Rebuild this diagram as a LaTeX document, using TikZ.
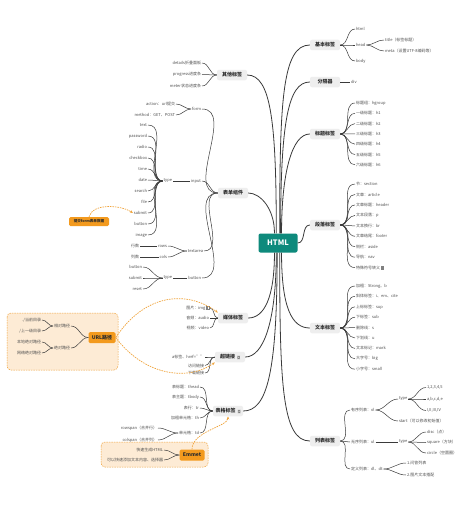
\documentclass[tikz,border=0pt]{standalone}
\usepackage{fontspec}
\setmainfont{Noto Sans CJK SC}
\usetikzlibrary{arrows.meta}
\definecolor{rootteal}{HTML}{0E8A7C}
\definecolor{topicgrey}{HTML}{EEEEEE}
\definecolor{inkdark}{HTML}{2B2B2B}
\definecolor{inkgrey}{HTML}{505050}
\definecolor{wiregrey}{HTML}{3A3A3A}
\definecolor{tiporange}{HTML}{F39A1E}
\definecolor{zonefill}{HTML}{FDEBD5}
\definecolor{zoneline}{HTML}{F0A33A}

\newcommand{\noteicon}{\tikz[baseline=0pt]\draw[gray, line width=0.3pt] (0,0) rectangle (2.4pt,3pt) (0.5pt,1pt)--(1.9pt,1pt) (0.5pt,2pt)--(1.9pt,2pt);}

\begin{document}
\begin{tikzpicture}[x=1pt, y=-1pt,
  root/.style={fill=rootteal, rounded corners=2pt, text=white, font=\fontsize{7.5}{8}\selectfont\bfseries, minimum width=39pt, minimum height=19pt, inner sep=1pt},
  topic/.style={fill=topicgrey, rounded corners=2pt, text=inkdark, font=\fontsize{5}{6}\selectfont\bfseries, minimum width=30pt, minimum height=10.5pt, inner sep=1.5pt},
  leaf/.style={text=inkgrey, font=\fontsize{4}{4.5}\selectfont, inner sep=0.8pt},
  tipbox/.style={fill=tiporange, rounded corners=1.5pt, text=inkdark, font=\fontsize{5}{6}\selectfont\bfseries, minimum height=11pt, inner sep=1.5pt},
  zone/.style={draw=zoneline, fill=zonefill, dashed, dash pattern=on 1.5pt off 1pt, rounded corners=4pt, line width=0.5pt},
  wire/.style={draw=wiregrey, line width=0.8pt},
  twig/.style={draw=wiregrey, line width=0.5pt},
  hint/.style={draw=zoneline, dash pattern=on 1.5pt off 1pt, line width=0.7pt, -{Stealth[length=3pt,width=2.5pt]}}]

\useasboundingbox[fill=white] (0,0) rectangle (474,527);

% orange zones
\draw[zone] (7,313) rectangle (118,370);
\draw[zone] (101,442) rectangle (208,467);

\node[root] (root) at (278,243) {HTML};

% right side
\node[topic] (basic) at (325,45) {基本标签};
\node[leaf, anchor=west] (htmltag) at (355,29) {html};
\node[leaf, anchor=west] (head) at (355,45) {head};
\node[leaf, anchor=west] (body) at (355,61) {body};
\node[leaf, anchor=west] (title) at (384,40) {title（标签标题）};
\node[leaf, anchor=west] (meta) at (384,51) {meta（设置UTF-8编码等）};
\foreach \n in {htmltag,head,body} \draw[twig] (basic.east) to[out=0,in=180] (\n.west);
\foreach \n in {title,meta} \draw[twig] (head.east) to[out=0,in=180] (\n.west);

\node[topic] (divider) at (325,82) {分隔器};
\node[leaf, anchor=west] (div) at (350,82) {div};
\draw[twig] (divider.east) -- (div.west);

\node[topic] (heading) at (325,134) {标题标签};
\foreach \t [count=\i] in {标题组：hgroup,一级标题：h1,二级标题：h2,三级标题：h3,四级标题：h4,五级标题：h5,六级标题：h6}{
  \node[leaf, anchor=west] (hx\i) at (355,92.7+10.3*\i) {\t};
  \draw[twig] (heading.east) to[out=0,in=180] (hx\i.west);}

\node[topic] (para) at (325,225) {段落标签};
\foreach \t [count=\i] in {节：section,文章：article,文章标题：header,文本段落：p,文本换行：br,文章结尾：footer,侧栏：aside,导航：nav,特殊符号转义\ \noteicon}{
  \node[leaf, anchor=west] (px\i) at (355,173.6+10.45*\i) {\t};
  \draw[twig] (para.east) to[out=0,in=180] (px\i.west);}

\node[topic] (text) at (325,328) {文本标签};
\foreach \t [count=\i] in {加粗：Strong、b,斜体标签：i、em、cite,上标标签：sup,下标签：sub,删除线：s,下划线：u,文本标记：mark,大字号：big,小字号：small}{
  \node[leaf, anchor=west] (tx\i) at (355,275.6+10.4*\i) {\t};
  \draw[twig] (text.east) to[out=0,in=180] (tx\i.west);}

\node[topic] (list) at (325,441) {列表标签};
\node[leaf, anchor=west] (ol) at (350,410) {有序列表：ol};
\node[leaf, anchor=west] (ul) at (350,442) {无序列表：ul};
\node[leaf, anchor=west] (dl) at (350,469) {定义列表：dl、dt};
\foreach \n in {ol,ul,dl} \draw[twig] (list.east) to[out=0,in=180] (\n.west);
\node[leaf, anchor=west] (oltype) at (398,399) {type};
\node[leaf, anchor=west] (start) at (398,421) {start（可以修改初始值）};
\foreach \n in {oltype,start} \draw[twig] (ol.east) to[out=0,in=180] (\n.west);
\foreach \t [count=\i] in {{1,2,3,4,5},{a,b,c,d,e},{I,II,III,IV}}{
  \node[leaf, anchor=west] (ox\i) at (426,376+11.5*\i) {\t};
  \draw[twig] (oltype.east) to[out=0,in=180] (ox\i.west);}
\node[leaf, anchor=west] (ultype) at (398,442) {type};
\draw[twig] (ul.east) -- (ultype.west);
\foreach \t [count=\i] in {disc（点）,square（方块）,circle（空圆圈）}{
  \node[leaf, anchor=west] (ux\i) at (426,421.5+10.5*\i) {\t};
  \draw[twig] (ultype.east) to[out=0,in=180] (ux\i.west);}
\node[leaf, anchor=west] (qa) at (406,463) {1.问答列表};
\node[leaf, anchor=west] (pic) at (406,475) {2.图片文本搭配};
\foreach \n in {qa,pic} \draw[twig] (dl.east) to[out=0,in=180] (\n.west);

% left side
\node[topic] (other) at (232,75) {其他标签};
\foreach \t [count=\i] in {details折叠面板,progress进度条,meter状态进度条}{
  \node[leaf, anchor=east] (ot\i) at (202,51.5+11.5*\i) {\t};
  \draw[twig] (other.west) to[out=180,in=0] (ot\i.east);}

\node[topic] (form) at (233,193) {表单组件};
\node[leaf, anchor=east] (formtag) at (202,109) {form};
\node[leaf, anchor=east] (action) at (176,104) {action：url提交};
\node[leaf, anchor=east] (method) at (176,115) {method：GET、POST};
\foreach \n in {action,method} \draw[twig] (formtag.west) to[out=180,in=0] (\n.east);
\node[leaf, anchor=east] (input) at (202,181) {input};
\node[leaf, anchor=east] (intype) at (173,181) {type};
\draw[twig] (input.west) -- (intype.east);
\foreach \t [count=\i] in {text,password,radio,checkbox,time,date,search,file,submit,button,image}{
  \node[leaf, anchor=east] (in\i) at (148,114+11*\i) {\t};
  \draw[twig] (intype.west) to[out=180,in=0] (in\i.east);}
\node[leaf, anchor=east] (textarea) at (204,251) {textarea};
\node[leaf, anchor=east] (rows) at (168,246) {rows};
\node[leaf, anchor=east] (cols) at (168,257) {cols};
\node[leaf, anchor=east] (rownum) at (140,246) {行数};
\node[leaf, anchor=east] (colnum) at (140,257) {列数};
\foreach \n in {rows,cols} \draw[twig] (textarea.west) to[out=180,in=0] (\n.east);
\draw[twig] (rows.west) -- (rownum.east);
\draw[twig] (cols.west) -- (colnum.east);
\node[leaf, anchor=east] (btn) at (202,278) {button};
\node[leaf, anchor=east] (btntype) at (173,278) {type};
\draw[twig] (btn.west) -- (btntype.east);
\foreach \t [count=\i] in {button,submit,reset}{
  \node[leaf, anchor=east] (bt\i) at (143,256+11*\i) {\t};
  \draw[twig] (btntype.west) to[out=180,in=0] (bt\i.east);}
\foreach \n in {formtag,input,textarea,btn} \draw[twig] (form.west) to[out=180,in=0] (\n.east);
\node[tipbox, font=\fontsize{3.6}{4}\selectfont\bfseries, minimum height=9pt, minimum width=40pt] (note) at (89,221.5) {提交form表单数据};
\draw[hint] (note.north) .. controls +(4,-14) and +(-12,-8) .. (in9.west);

\node[topic] (media) at (233,318) {媒体标签};
\foreach \t [count=\i] in {图片：img\ \noteicon,音频：audio,视频：video}{
  \node[leaf, anchor=east] (md\i) at (210,298+10*\i) {\t};
  \draw[twig] (media.west) to[out=180,in=0] (md\i.east);}

\node[topic] (link) at (230,357) {超链接\ \ \noteicon};
\foreach \t [count=\i] in {a标签、href="",访问链接,下载链接}{
  \node[leaf, anchor=east] (lk\i) at (205,347+10*\i-0.5*\i*\i+0.5) {\t};
  \draw[twig] (link.west) to[out=180,in=0] (lk\i.east);}

\node[tipbox, minimum width=27pt] (url) at (102,337.5) {URL路径};
\node[leaf] (rel) at (62,326) {相对路径};
\node[leaf] (abs) at (62,348) {绝对路径};
\foreach \n in {rel,abs} \draw[twig] (url.west) to[out=180,in=0] (\n.east);
\node[leaf, anchor=east] (cur) at (42,320) {./当前目录};
\node[leaf, anchor=east] (up) at (42,331) {/上一级目录};
\node[leaf, anchor=east] (local) at (42,342) {本地绝对路径};
\node[leaf, anchor=east] (web) at (42,353) {网络绝对路径};
\foreach \n in {cur,up} \draw[twig] (rel.west) to[out=180,in=0] (\n.east);
\foreach \n in {local,web} \draw[twig] (abs.west) to[out=180,in=0] (\n.east);
\draw[hint] (url.east) .. controls +(30,-45) and +(-30,-22) .. (media.north west);
\draw[hint] (url.east) .. controls +(30,40) and +(-25,18) .. (link.south west);

\node[topic] (table) at (228,411) {表格标签\ \ \noteicon};
\node[leaf, anchor=east] (thead) at (200,387) {表标题：thead};
\node[leaf, anchor=east] (tbody) at (200,397) {表主题：tbody};
\node[leaf, anchor=east] (tr) at (200,408) {表行：tr};
\node[leaf, anchor=east] (th) at (200,418) {加粗单元格：th};
\node[leaf, anchor=east] (td) at (200,433) {单元格：td};
\foreach \n in {thead,tbody,tr,th,td} \draw[twig] (table.west) to[out=180,in=0] (\n.east);
\node[leaf, anchor=east] (rowspan) at (158,428) {rowspan（合并行）};
\node[leaf, anchor=east] (colspan) at (158,440) {colspan（合并列）};
\foreach \n in {rowspan,colspan} \draw[twig] (td.west) to[out=180,in=0] (\n.east);

\node[tipbox, minimum width=25pt] (emmet) at (192,455) {Emmet};
\node[leaf, anchor=east] (quick) at (164,450) {快速生成HTML};
\node[leaf, anchor=east] (fill) at (164,460) {可以快速添加文本内容、选择器};
\foreach \n in {quick,fill} \draw[twig] (emmet.west) to[out=180,in=0] (\n.east);
\draw[hint] (emmet.north) .. controls +(0,-18) and +(0,10) .. (table.south);

% trunk
\draw[wire] (root.80) .. controls +(0,-130) and +(-28,0) .. (basic.west);
\draw[wire] (root.75) .. controls +(0,-110) and +(-22,0) .. (divider.west);
\draw[wire] (root.70) .. controls +(0,-60) and +(-18,0) .. (heading.west);
\draw[wire] (root.east) to[out=0,in=180] (para.west);
\draw[wire] (root.-70) .. controls +(0,55) and +(-18,0) .. (text.west);
\draw[wire] (root.-80) .. controls +(0,130) and +(-28,0) .. (list.west);
\draw[wire] (root.100) .. controls +(0,-110) and +(24,0) .. (other.east);
\draw[wire] (root.110) .. controls +(0,-25) and +(12,0) .. (form.east);
\draw[wire] (root.-110) .. controls +(0,45) and +(16,0) .. (media.east);
\draw[wire] (root.-100) .. controls +(0,70) and +(18,0) .. (link.east);
\draw[wire] (root.-95) .. controls +(0,120) and +(24,0) .. (table.east);
\end{tikzpicture}
\end{document}
